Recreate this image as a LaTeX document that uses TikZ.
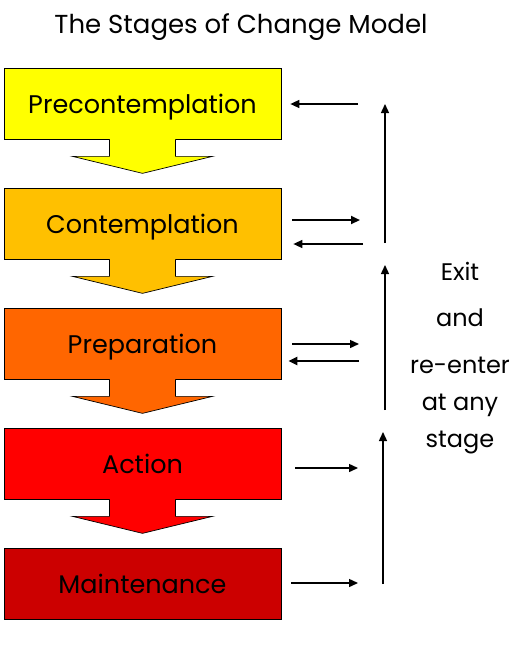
\documentclass[tikz,border=0pt]{standalone}
\usepackage{fontspec}
\setmainfont{Poppins}
\usetikzlibrary{arrows.meta,calc}
\definecolor{preyel}{RGB}{255,255,0}
\definecolor{congold}{RGB}{255,192,0}
\definecolor{prporange}{RGB}{255,102,0}
\definecolor{actred}{RGB}{255,0,0}
\definecolor{mntred}{RGB}{204,0,0}
\tikzset{
  stagebox/.style={draw, line width=0.7pt, minimum width=277pt, minimum height=71pt,
    inner sep=0pt, font=\fontsize{25.5}{30}\selectfont},
  sidearrow/.style={line width=1.4pt, -{Triangle[length=9pt,width=8pt]}},
  sidetext/.style={font=\fontsize{24}{28}\selectfont}
}
\begin{document}
\begin{tikzpicture}[x=1pt, y=-1pt]
    \useasboundingbox (0,0) rectangle (528,646);
    \node[font=\fontsize{26}{30}\selectfont] (title) at (241,27) {The Stages of Change Model};

    % 1. stages
    \foreach \name/\col/\txt [count=\i] in {pre/preyel/Precontemplation, con/congold/Contemplation,
      prp/prporange/Preparation, act/actred/Action, mnt/mntred/Maintenance} {
      \node[stagebox, fill=\col, text depth=0pt] (\name) at (142.5, {103.5+120*(\i-1)}) {\txt};
    }

    % 2. down arrows
    \foreach \a/\col in {pre/preyel, con/congold, prp/prporange, act/actred} {
      \fill[\col] ($(\a.south)+(-33,-1)$) -- ++(0,18) -- ++(-37,0) -- ++(70,17) -- ++(70,-17)
        -- ++(-37,0) -- ++(0,-18) -- cycle;
      \draw[line width=0.7pt] ($(\a.south)+(-33,0)$) -- ++(0,17) -- ++(-37,0) -- ++(70,17)
        -- ++(70,-17) -- ++(-37,0) -- ++(0,-17);
    }

    % 3. exit and re-enter
    \coordinate (pre in) at (358,104);
    \coordinate (con out) at (360,220);
    \coordinate (con in) at (363,244);
    \coordinate (prp out) at (359,344);
    \coordinate (prp in) at (359,361);
    \coordinate (act out) at (358,468);
    \coordinate (mnt out) at (358,583);
    \draw[sidearrow] (pre in) -- ([xshift=9pt]pre.east |- pre in);
    \draw[sidearrow, line width=2.2pt] ([xshift=11pt]con.east |- con out) -- (con out);
    \draw[sidearrow] (con in) -- ([xshift=12pt]con.east |- con in);
    \draw[sidearrow] ([xshift=11pt]prp.east |- prp out) -- (prp out);
    \draw[sidearrow, line width=2pt] (prp in) -- ([xshift=7pt]prp.east |- prp in);
    \draw[sidearrow] ([xshift=14pt]act.east |- act out) -- (act out);
    \draw[sidearrow] ([xshift=10pt]mnt.east |- mnt out) -- (mnt out);

    \coordinate (up1 low) at (385,243);
    \coordinate (up1 high) at (385,104);
    \coordinate (up2 low) at (385,410);
    \coordinate (up2 high) at (385,265);
    \coordinate (up3 low) at (383,584);
    \coordinate (up3 high) at (383,432);
    \foreach \k in {1, 2, 3} {
      \draw[sidearrow] (up\k\space low) -- (up\k\space high);
    }

    \node[sidetext] (exit) at (460,271) {Exit};
    \node[sidetext] (and) at (460,318) {and};
    \node[sidetext] (reenter) at (460,365) {re-enter};
    \node[sidetext] (atany) at (460,405) {at any};
    \node[sidetext] (stage) at (460,443) {stage};
\end{tikzpicture}
\end{document}
